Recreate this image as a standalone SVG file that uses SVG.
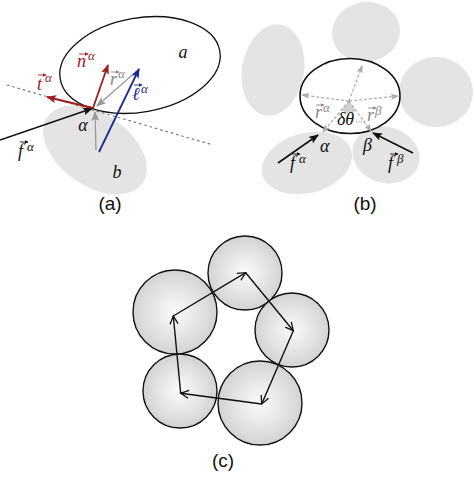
<svg xmlns="http://www.w3.org/2000/svg" width="474" height="479" viewBox="0 0 474 479">
<style>
.m{font-family:"Liberation Serif","DejaVu Serif",serif;font-style:italic;font-size:18px}
.s{font-family:"Liberation Serif","DejaVu Serif",serif;font-style:italic;font-size:13px}
.cap{font-family:"Liberation Sans",Arial,sans-serif;font-size:19px;fill:#111;text-anchor:middle}
.red{fill:#a01e1e}
.blue{fill:#1c2a96}
.gry{fill:#888}
.blk{fill:#111}
.grain{fill:#e4e4e4}
.circ{fill:url(#cg);stroke:#111;stroke-width:1.4}
.vk{stroke:#111;stroke-width:0.9;marker-end:url(#vk)}
.vr{stroke:#a01e1e;stroke-width:0.9;marker-end:url(#vr)}
.vb{stroke:#1c2a96;stroke-width:0.9;marker-end:url(#vb)}
.vg{stroke:#888;stroke-width:0.9;marker-end:url(#vg)}
</style>
<defs>
<radialGradient id="cg" cx="50%" cy="50%" r="50%">
<stop offset="0" stop-color="#fbfbfb"/>
<stop offset="1" stop-color="#d3d3d3"/>
</radialGradient>
<marker id="hk" markerUnits="userSpaceOnUse" markerWidth="10" markerHeight="8" refX="9" refY="4" orient="auto"><path d="M0,0 L10,4 L0,8 L2,4 z" fill="#111"/></marker>
<marker id="hr" markerUnits="userSpaceOnUse" markerWidth="10" markerHeight="8" refX="9" refY="4" orient="auto"><path d="M0,0 L10,4 L0,8 L2,4 z" fill="#a01e1e"/></marker>
<marker id="hb" markerUnits="userSpaceOnUse" markerWidth="10" markerHeight="8" refX="9" refY="4" orient="auto"><path d="M0,0 L10,4 L0,8 L2,4 z" fill="#1c2a96"/></marker>
<marker id="hg" markerUnits="userSpaceOnUse" markerWidth="10" markerHeight="8" refX="9" refY="4" orient="auto"><path d="M0,0 L10,4 L0,8 L2,4 z" fill="#999"/></marker>
<marker id="hgs" markerUnits="userSpaceOnUse" markerWidth="8" markerHeight="6" refX="7" refY="3" orient="auto"><path d="M0,0 L8,3 L0,6 L1.5,3 z" fill="#aaa"/></marker>
<marker id="ho" markerUnits="userSpaceOnUse" markerWidth="12" markerHeight="10" refX="10" refY="5" orient="auto"><path d="M2,1 L10,5 L2,9" fill="none" stroke="#111" stroke-width="1.3"/></marker>
<marker id="vk" markerUnits="userSpaceOnUse" markerWidth="4" markerHeight="4" refX="3.5" refY="2" orient="auto"><path d="M0,0 L4,2 L0,4 z" fill="#111"/></marker>
<marker id="vr" markerUnits="userSpaceOnUse" markerWidth="4" markerHeight="4" refX="3.5" refY="2" orient="auto"><path d="M0,0 L4,2 L0,4 z" fill="#a01e1e"/></marker>
<marker id="vb" markerUnits="userSpaceOnUse" markerWidth="4" markerHeight="4" refX="3.5" refY="2" orient="auto"><path d="M0,0 L4,2 L0,4 z" fill="#1c2a96"/></marker>
<marker id="vg" markerUnits="userSpaceOnUse" markerWidth="4" markerHeight="4" refX="3.5" refY="2" orient="auto"><path d="M0,0 L4,2 L0,4 z" fill="#888"/></marker>
</defs>

<!-- Panel (a) -->
<g id="a-particle-b"><ellipse class="grain" cx="95" cy="150" rx="58" ry="36" transform="rotate(35 95 150)"/><text class="m blk" x="117" y="178" text-anchor="middle">b</text></g>
<g id="a-particle-a"><ellipse cx="140" cy="65" rx="81" ry="47" transform="rotate(-10 140 65)" fill="none" stroke="#111" stroke-width="1.3"/><text class="m blk" x="183" y="58" text-anchor="middle">a</text></g>
<g id="a-connectors">
<line x1="7" y1="85" x2="213" y2="145" stroke="#777" stroke-width="1.2" stroke-dasharray="2.5,3"/>
<line x1="0" y1="140" x2="92" y2="108.5" stroke="#111" stroke-width="1.6" marker-end="url(#hk)"/>
<line x1="93" y1="108" x2="47" y2="97" stroke="#a01e1e" stroke-width="1.8" marker-end="url(#hr)"/>
<line x1="93" y1="108" x2="108" y2="65" stroke="#a01e1e" stroke-width="1.8" marker-end="url(#hr)"/>
<line x1="138" y1="70" x2="97" y2="106" stroke="#999" stroke-width="1.3" marker-end="url(#hg)"/>
<line x1="99" y1="152" x2="139" y2="69" stroke="#1c2a96" stroke-width="1.8" marker-end="url(#hb)"/>
<line x1="96" y1="150" x2="95" y2="112" stroke="#999" stroke-width="1.3" marker-end="url(#hg)"/>
</g>
<g id="a-labels">
<text class="m red" x="77" y="67">n</text><text class="s red" x="88" y="60">α</text><line class="vr" x1="79" y1="54" x2="88" y2="54"/>
<text class="m red" x="37" y="90">t</text><text class="s red" x="45" y="82">α</text><line class="vr" x1="38" y1="75" x2="46" y2="75"/>
<text class="m gry" x="110" y="85">r</text><text class="s gry" x="118" y="78">α</text><line class="vg" x1="111" y1="72" x2="119" y2="72"/>
<text class="m blue" x="132" y="100">ℓ</text><text class="s blue" x="141" y="93">α</text><line class="vb" x1="134" y1="85" x2="142" y2="85"/>
<text class="m blk" x="83" y="131" text-anchor="middle">α</text>
<text class="m blk" x="18" y="157">f</text><text class="s blk" x="27" y="151">α</text><line class="vk" x1="20" y1="142" x2="28" y2="142"/>
<text class="cap" x="110" y="210">(a)</text>
</g>

<!-- Panel (b) -->
<g id="b-top"><ellipse class="grain" cx="366" cy="32" rx="34" ry="30" transform="rotate(-10 366 32)"/></g>
<g id="b-left"><ellipse class="grain" cx="273" cy="70" rx="31" ry="46" transform="rotate(10 273 70)"/></g>
<g id="b-right"><ellipse class="grain" cx="436" cy="92" rx="37" ry="35"/></g>
<g id="b-bottom-left"><ellipse class="grain" cx="307" cy="163" rx="46" ry="30" transform="rotate(-15 307 163)"/></g>
<g id="b-bottom-right"><ellipse class="grain" cx="386" cy="155" rx="34" ry="28" transform="rotate(15 386 155)"/></g>
<g id="b-center"><ellipse cx="350" cy="96" rx="50" ry="37.5" fill="#fff" stroke="#111" stroke-width="1.6"/>
<path d="M349,101 L341,110 A12,12 0 0 0 356,111 z" fill="#d0d0d0"/>
</g>
<g id="b-connectors">
<g stroke="#aaa" stroke-width="1.2" stroke-dasharray="3,2" marker-end="url(#hgs)">
<line x1="349" y1="101" x2="362" y2="66"/>
<line x1="349" y1="101" x2="302" y2="95"/>
<line x1="349" y1="101" x2="398" y2="96"/>
<line x1="349" y1="101" x2="323" y2="132"/>
<line x1="349" y1="101" x2="371" y2="131"/>
</g>
<line x1="356" y1="122" x2="365" y2="121" stroke="#888" stroke-width="1" stroke-dasharray="1,1.5"/>
<line x1="278" y1="163" x2="318" y2="135" stroke="#111" stroke-width="1.6" marker-end="url(#hk)"/>
<line x1="413" y1="153" x2="373" y2="133" stroke="#111" stroke-width="1.6" marker-end="url(#hk)"/>
</g>
<g id="b-labels">
<text class="m gry" x="315" y="118">r</text><text class="s gry" x="323" y="112">α</text><line class="vg" x1="316" y1="105" x2="324" y2="105"/>
<text class="m blk" x="337" y="125" font-size="16">δθ</text>
<text class="m gry" x="367" y="121">r</text><text class="s gry" x="375" y="115">β</text><line class="vg" x1="368" y1="108" x2="376" y2="108"/>
<text class="m blk" x="320" y="152">α</text>
<text class="m blk" x="363" y="151">β</text>
<text class="m blk" x="290" y="169">f</text><text class="s blk" x="299" y="163">α</text><line class="vk" x1="292" y1="154" x2="300" y2="154"/>
<text class="m blk" x="388" y="169">f</text><text class="s blk" x="397" y="163">β</text><line class="vk" x1="390" y1="154" x2="398" y2="154"/>
<text class="cap" x="365" y="210">(b)</text>
</g>

<!-- Panel (c) -->
<g id="c-top"><circle class="circ" cx="245" cy="273" r="37"/></g>
<g id="c-left"><circle class="circ" cx="175" cy="312" r="42"/></g>
<g id="c-right"><circle class="circ" cx="292" cy="330" r="37"/></g>
<g id="c-bottom-left"><circle class="circ" cx="180" cy="391" r="37"/></g>
<g id="c-bottom-right"><circle class="circ" cx="260" cy="403" r="42"/></g>
<g id="c-connectors" stroke="#111" stroke-width="1.4" marker-end="url(#ho)">
<line x1="173.3" y1="316" x2="245.7" y2="272.7"/>
<line x1="245.7" y1="272.7" x2="293.3" y2="330.7"/>
<line x1="293.3" y1="330.7" x2="261.7" y2="404"/>
<line x1="261.7" y1="404" x2="180.7" y2="393.3"/>
<line x1="180.7" y1="393.3" x2="173.3" y2="316"/>
</g>
<text class="cap" x="223" y="467">(c)</text>
</svg>
